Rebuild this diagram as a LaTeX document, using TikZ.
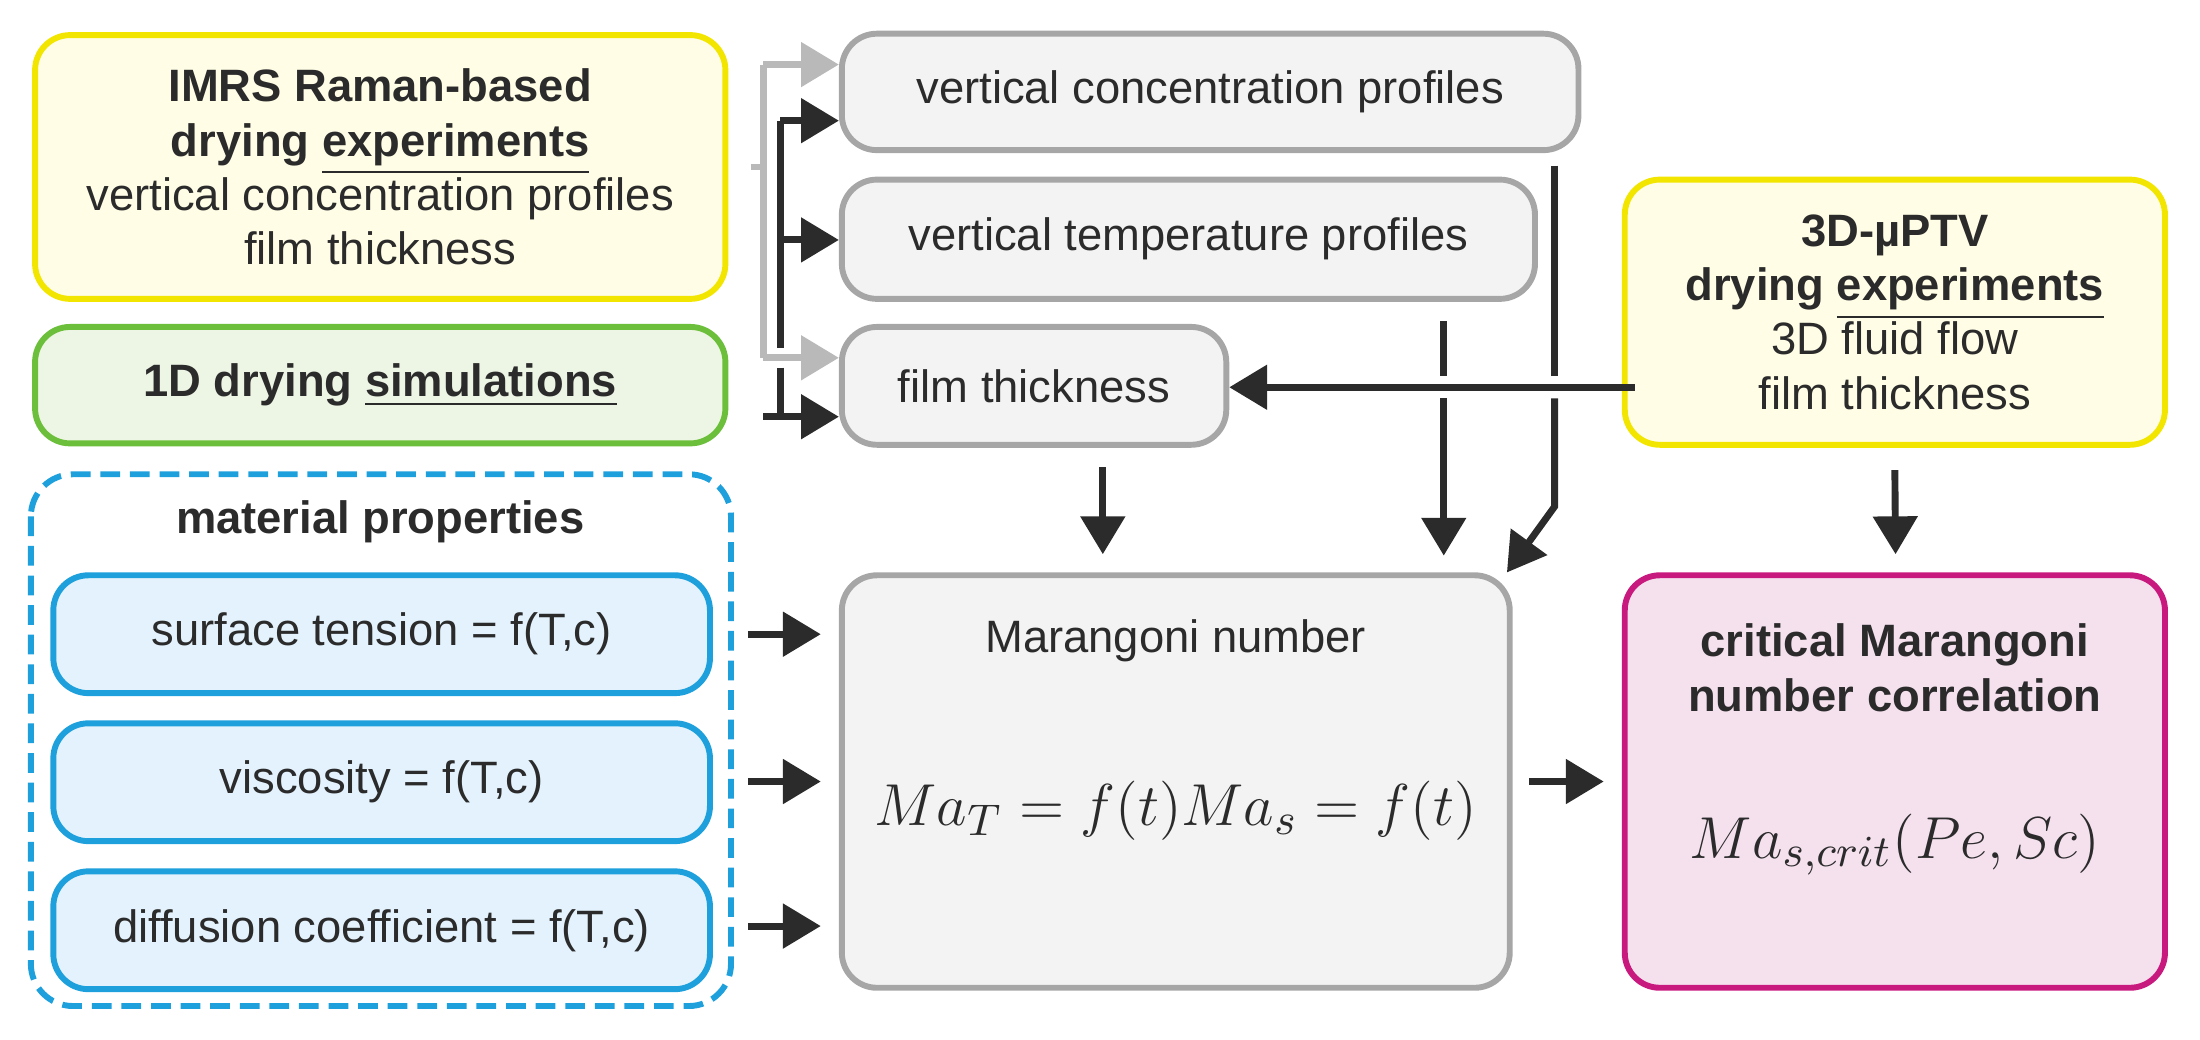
\documentclass[tikz,border=0pt]{standalone}
\usepackage{fontspec}
\setmainfont{Liberation Sans}
\usetikzlibrary{arrows.meta, positioning}
\definecolor{ink}{HTML}{2B2B2B}
\definecolor{ylwline}{HTML}{F2E500}
\definecolor{ylwfill}{HTML}{FFFDE6}
\definecolor{grnline}{HTML}{6CBF3A}
\definecolor{grnfill}{HTML}{EDF5E4}
\definecolor{bluline}{HTML}{1EA0DC}
\definecolor{blufill}{HTML}{E3F2FC}
\definecolor{gryline}{HTML}{A6A6A6}
\definecolor{gryfill}{HTML}{F3F3F3}
\definecolor{magline}{HTML}{C8197F}
\definecolor{magfill}{HTML}{F5E1EE}
\tikzset{
  box/.style={draw, line width=1.2pt, rounded corners=0.25cm, align=center, text=ink,
    inner sep=0pt, font=\fontsize{9.2}{11}\selectfont},
  ylw/.style={box, draw=ylwline, fill=ylwfill},
  grn/.style={box, draw=grnline, fill=grnfill},
  blu/.style={box, draw=bluline, fill=blufill, minimum width=4.68cm, minimum height=0.84cm},
  gry/.style={box, draw=gryline, fill=gryfill, minimum height=0.84cm},
  mag/.style={box, draw=magline, fill=magfill},
  arr/.style={draw=ink, line width=1.4pt, -{Triangle[length=0.27cm, width=0.31cm]}},
  garr/.style={draw=gray!55, line width=1.4pt, -{Triangle[length=0.27cm, width=0.31cm]}},
  ln/.style={draw=ink, line width=1.4pt}
}
\begin{document}
\begin{tikzpicture}[x=1cm, y=-1cm]
\useasboundingbox (0,0) rectangle (15.68,7.41);

% source boxes
\node[ylw, minimum width=4.92cm, minimum height=1.88cm] (imrs) at (2.71,1.19)
  {\textbf{IMRS Raman-based}\\\textbf{drying \underline{experiments}}\\vertical concentration profiles\\film thickness};
\node[grn, minimum width=4.92cm, minimum height=0.83cm] (sim) at (2.71,2.745)
  {\textbf{1D drying \underline{simulations}}};
\node[ylw, minimum width=3.85cm, minimum height=1.89cm] (ptv) at (13.505,2.225)
  {\textbf{3D-µPTV}\\\textbf{drying \underline{experiments}}\\3D fluid flow\\film thickness};

% material properties
\draw[bluline, line width=1.2pt, dashed, dash pattern=on 4pt off 2pt, rounded corners=0.3cm]
  (0.22,3.38) rectangle (5.21,7.17);
\node[text=ink, font=\fontsize{9.2}{11}\selectfont\bfseries] (mat) at (2.71,3.72) {material properties};
\node[blu] (sigma) at (2.72,4.52) {surface tension = f(T,c)};
\node[blu] (eta) at (2.72,5.575) {viscosity = f(T,c)};
\node[blu] (diff) at (2.72,6.63) {diffusion coefficient = f(T,c)};

% profile boxes
\node[gry, minimum width=5.25cm, minimum height=0.83cm] (conc) at (8.625,0.655) {vertical concentration profiles};
\node[gry, minimum width=4.94cm, minimum height=0.85cm] (temp) at (8.47,1.705) {vertical temperature profiles};
\node[gry, minimum width=2.74cm] (film) at (7.37,2.75) {film thickness};

% results
\node[gry, minimum width=4.76cm, minimum height=2.94cm] (ma) at (8.38,5.57) {};
\node[text=ink, font=\fontsize{9.2}{11}\selectfont] (matitle) at (8.38,4.57) {Marangoni number};
\node[text=ink, font=\fontsize{13}{17}\selectfont] (maform) at (8.38,5.78) {$Ma_T = f(t)$\\[2pt]$Ma_s = f(t)$};
\node[mag, minimum width=3.85cm, minimum height=2.94cm] (crit) at (13.505,5.57) {};
\node[text=ink, font=\fontsize{9.2}{11}\selectfont\bfseries, align=center] (crittitle) at (13.505,4.76)
  {critical Marangoni\\number correlation};
\node[text=ink, font=\fontsize{13}{17}\selectfont] (critform) at (13.505,6.02) {$Ma_{s,crit}(Pe,Sc)$};

% connectors left
\coordinate (gs) at (5.35,1.19);
\coordinate (gt) at (5.44,0.46);
\coordinate (gb) at (5.44,2.55);
\draw[gray!55, line width=1.4pt] (gs) -- (gt |- gs);
\draw[garr, rounded corners=1pt] (gb -| film.west) ++(0,0) coordinate (gbe) (gt) -- (gt -| conc.west);
\draw[garr] (gb) -- (gb -| film.west);
\draw[gray!55, line width=1.4pt] (gt) -- (gb);
\coordinate (bt) at (5.56,0.86);
\coordinate (bb) at (5.56,2.48);
\draw[ln] (bt) -- (bb);
\draw[arr] (bt) -- (bt -| conc.west);
\draw[arr] (5.56,1.71) -- (5.56,1.71 -| temp.west);
\coordinate (sb) at (5.44,2.97);
\draw[arr] (sb) -- (sb -| film.west);
\draw[ln] (5.56,2.62) -- (5.56,2.97);

% connectors right
\coordinate (ph) at (11.65,2.76);
\draw[arr] (ph) -- (film.east |- ph);
\draw[ln] (10.29,2.29) -- (10.29,2.68);
\draw[arr] (10.29,2.84) -- (10.29,3.96);
\draw[ln] (11.08,1.18) -- (11.08,2.68);
\draw[arr] (11.08,2.84) -- (11.08,3.61) -- (10.74,4.08);
\draw[arr] (7.86,3.33) -- (7.86,3.95);
\draw[arr] (ptv.south) ++(0,0.16) -- (13.51,3.95);
\draw[arr] (5.33,4.52) -- (5.85,4.52);
\draw[arr] (5.33,5.57) -- (5.85,5.57);
\draw[arr] (5.33,6.6) -- (5.85,6.6);
\draw[arr] (10.90,5.57) -- (11.43,5.57);
\end{tikzpicture}
\end{document}
